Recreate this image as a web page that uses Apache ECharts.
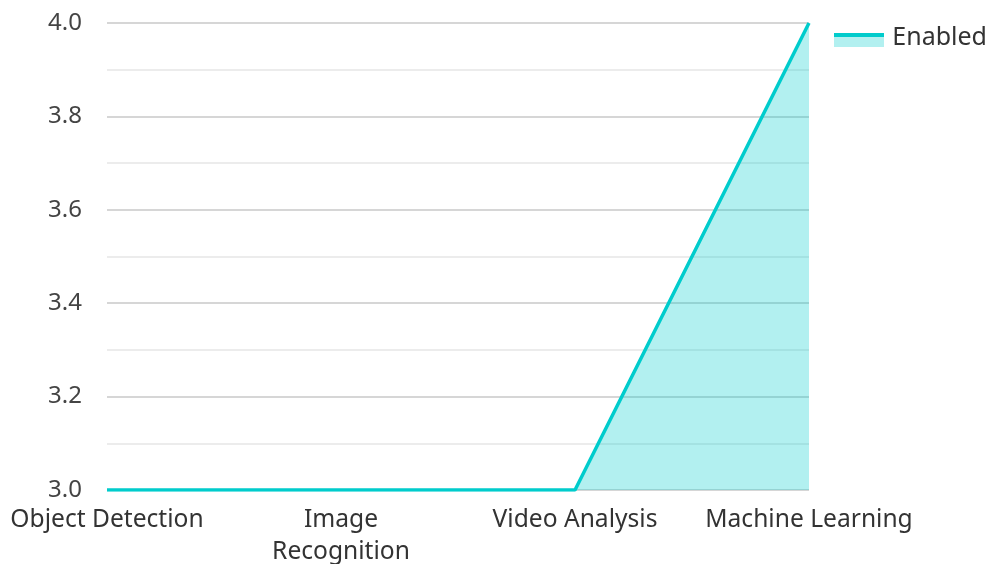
<!DOCTYPE html>
<html><head><meta charset="utf-8">
<script src="https://cdn.jsdelivr.net/npm/echarts@6/dist/echarts.min.js"></script>
<style>html,body{margin:0;padding:0;background:#fff}#c{width:990px;height:564px}</style>
</head><body><div id="c"></div>
<script>
const categories = ["Object Detection", "Image Recognition", "Video Analysis", "Machine Learning"];
const enabledValues = [3, 3, 3, 4];
const seriesName = "Enabled";
const yMin = 3.0, yMax = 4.0, yInterval = 0.2;

const chart = echarts.init(document.getElementById('c'));
chart.setOption({
  animation: false,
  textStyle: { fontFamily: "Noto Sans" },
  grid: { left: 107, right: 181, top: 23, bottom: 74, outerBoundsMode: 'none', containLabel: false },
  legend: {
    data: [{ name: seriesName, icon: 'rect', itemStyle: { color: 'rgba(0,0,0,0)' } }],
    right: 3, top: 25, padding: 0, itemWidth: 50, itemHeight: 14, itemGap: 10,
    textStyle: { fontSize: 25, color: '#333', fontFamily: "Noto Sans" }
  },
  graphic: [
    { type: 'rect', right: 106, top: 37, z: 100, shape: { width: 50, height: 10 }, style: { fill: 'rgba(0,204,204,0.3)' } },
    { type: 'rect', right: 106, top: 33, z: 101, shape: { width: 50, height: 4 }, style: { fill: '#00cccc' } }
  ],
  xAxis: {
    type: 'category', data: categories, boundaryGap: false,
    axisLine: { show: false }, axisTick: { show: false },
    axisLabel: { interval: 0, fontSize: 24.6, color: '#333', margin: 14, lineHeight: 32,
      formatter: v => v === "Image Recognition" ? "Image\nRecognition" : v }
  },
  yAxis: {
    type: 'value', min: yMin, max: yMax, interval: yInterval,
    axisLine: { show: false }, axisTick: { show: false },
    axisLabel: { fontSize: 24, color: '#444', margin: 25, formatter: v => v.toFixed(1) },
    splitLine: { lineStyle: { color: '#c8c8c8', width: 1.5 } },
    minorTick: { show: false, splitNumber: 2 },
    minorSplitLine: { show: true, lineStyle: { color: '#e6e6e6', width: 1.5 } }
  },
  series: [{
    name: seriesName, type: 'line', data: enabledValues, symbol: 'none',
    lineStyle: { color: '#00cccc', width: 3.5 },
    itemStyle: { color: '#00cccc' },
    areaStyle: { color: '#00cccc', opacity: 0.3, origin: 'start' }
  }]
});
</script></body></html>
